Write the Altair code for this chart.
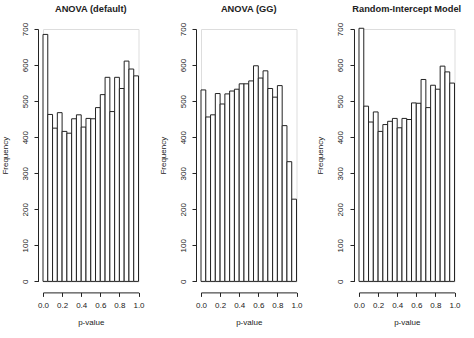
import altair as alt
import pandas as pd

bin_lo = [round(i * 0.05, 2) for i in range(20)]
bin_hi = [round((i + 1) * 0.05, 2) for i in range(20)]

anova_default = [685, 463, 425, 468, 416, 411, 451, 462, 428, 452,
                 451, 482, 518, 566, 471, 566, 535, 611, 589, 570]
anova_gg = [531, 456, 462, 521, 492, 520, 528, 533, 548, 548,
            556, 598, 564, 584, 535, 511, 543, 432, 332, 228]
random_intercept = [702, 486, 442, 470, 416, 435, 444, 452, 426, 452,
                    449, 495, 494, 560, 482, 544, 533, 597, 581, 550]

titles = ["ANOVA (default)", "ANOVA (GG)", "Random-Intercept Model"]
x_ticks = [0.0, 0.2, 0.4, 0.6, 0.8, 1.0]
y_ticks = [0, 100, 200, 300, 400, 500, 600, 700]

FONT = "Liberation Sans"
INK = "#222222"


def panel(values, title):
    df = pd.DataFrame({"lo": bin_lo, "hi": bin_hi, "count": values})
    common = dict(grid=False, tickSize=4, labelFont=FONT, titleFont=FONT,
                  labelFontSize=8, titleFontSize=8, titleFontWeight="normal",
                  labelColor=INK, titleColor=INK, domainColor=INK,
                  tickColor=INK, domainWidth=1, tickWidth=1,
                  labelOverlap=False, labelFlush=False)
    return (
        alt.Chart(df, title=alt.Title(title, fontSize=9.3, fontWeight="bold",
                                      font=FONT, color=INK, offset=8))
        .mark_rect(fill="white", stroke=INK, strokeWidth=1)
        .encode(
            x=alt.X("lo:Q",
                    scale=alt.Scale(domain=[0, 1], nice=False, zero=False),
                    axis=alt.Axis(values=x_ticks, format=".1f", title="p-value",
                                  offset=11, labelPadding=5, titlePadding=9,
                                  **common)),
            x2="hi:Q",
            y=alt.Y("count:Q",
                    scale=alt.Scale(domain=[0, 700], nice=False),
                    axis=alt.Axis(values=y_ticks, title="Frequency", offset=5,
                                  labelAngle=-90, labelAlign="center",
                                  labelBaseline="bottom", labelPadding=5,
                                  titlePadding=12, **common)),
            y2=alt.datum(0),
        )
        .properties(width=95.5, height=252.4)
    )


chart = (
    alt.hconcat(panel(anova_default, titles[0]),
                panel(anova_gg, titles[1]),
                panel(random_intercept, titles[2]),
                spacing=62, bounds="flush")
    .properties(padding={"left": 0, "top": 4, "right": 0, "bottom": 0})
    .configure_view(stroke=None)
    .configure(background="white")
)

chart.save("out.html", embed_options={"renderer": "svg", "actions": False})
